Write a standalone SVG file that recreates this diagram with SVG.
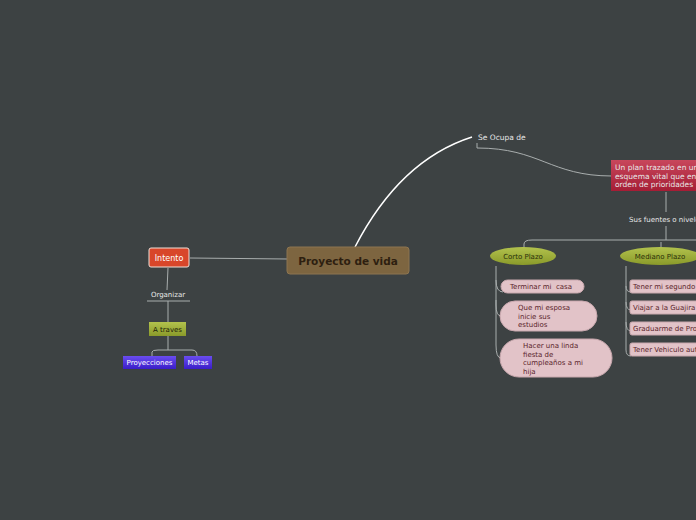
<svg xmlns="http://www.w3.org/2000/svg" width="696" height="520" viewBox="0 0 696 520">
<style>
text{font-family:"DejaVu Sans",sans-serif;font-size:7.5px}
.c{fill:none;stroke:#a9aeae;stroke-width:1}
.pk{fill:#e2c3c8;stroke:#c9a8ae}
.pt{fill:#5a1f2a}
.w{fill:#e8e8e8}
</style>
<defs>
<linearGradient id="r" x1="0" y1="0" x2="0" y2="1"><stop offset="0" stop-color="#c8475c"/><stop offset="1" stop-color="#a51d35"/></linearGradient>
<linearGradient id="g" x1="0" y1="0" x2="0" y2="1"><stop offset="0" stop-color="#b2c24d"/><stop offset="1" stop-color="#8a9a2a"/></linearGradient>
<linearGradient id="b" x1="0" y1="0" x2="0" y2="1"><stop offset="0" stop-color="#6a4cf0"/><stop offset="1" stop-color="#3a1ec8"/></linearGradient>
</defs>
<rect width="696" height="520" fill="#3d4243"/>
<g id="connectors">
<path d="M355 247 Q400 160 472 137" fill="none" stroke="#fff" stroke-width="1.5"/>
<path class="c" d="M477 143 L477 148 C540 148 550 176 612 176"/>
<path class="c" d="M190 258 L288 259" stroke="#ddd" stroke-width="1.3"/>
<path class="c" d="M168 268 L167 290"/>
<path class="c" d="M147 301 H190 M168 301 V322"/>
<path class="c" d="M168 336 V350 M152 356 V352 Q152 350 158 350 H192 Q197 350 197 356"/>
<path class="c" d="M666 192 V212 M666 226 V240 M524 248 V244 Q524 240 532 240 H696 M661 248 V242"/>
<path class="c" d="M496 266 V280 Q496 292 503 292 M496 280 V305 Q496 316 501 316 M496 300 V345 Q496 358 501 358"/>
<path class="c" d="M626 266 V350 Q626 356 631 356 M626 286 Q626 292 631 292 M626 302 Q626 310 631 310 M626 322 Q626 331 631 331"/>
</g>
<g id="n-proyecto"><rect x="287" y="247" width="122" height="27" rx="3" fill="#7d6540" stroke="#8d7550"/><text x="348" y="265" text-anchor="middle" style="font-size:10.5px;font-weight:bold;fill:#2e1f10">Proyecto de vida</text></g>
<g id="n-seocupa"><text x="478" y="140" class="w">Se Ocupa de</text></g>
<g id="n-plan"><rect x="611" y="160" width="90" height="31" fill="url(#r)"/><text class="w" x="615" y="170">Un plan trazado en un</text><text class="w" x="615" y="178.5">esquema vital que encaja</text><text class="w" x="615" y="187">orden de prioridades</text></g>
<g id="n-fuentes"><text x="629" y="222" class="w" style="font-size:7px">Sus fuentes o niveles</text></g>
<g id="n-corto"><ellipse cx="523" cy="256" rx="33" ry="9" fill="url(#g)"/><text x="523" y="259" text-anchor="middle" style="font-size:7px;fill:#2a300a">Corto Plazo</text></g>
<g id="n-mediano"><ellipse cx="660" cy="256" rx="40" ry="9" fill="url(#g)"/><text x="660" y="259" text-anchor="middle" style="font-size:7px;fill:#2a300a">Mediano Plazo</text></g>
<g id="n-casa"><rect class="pk" x="501" y="280" width="83" height="13" rx="6.5"/><text class="pt" x="510" y="289" style="font-size:7px;white-space:pre" xml:space="preserve">Terminar mi  casa</text></g>
<g id="n-esposa"><rect class="pk" x="500" y="301" width="97" height="30" rx="15"/><text class="pt" style="font-size:7px"><tspan x="518" y="310">Que mi esposa</tspan><tspan x="518" y="318.5">inicie sus</tspan><tspan x="518" y="327">estudios</tspan></text></g>
<g id="n-fiesta"><rect class="pk" x="500" y="339" width="112" height="38" rx="19"/><text class="pt" style="font-size:7px"><tspan x="523" y="348">Hacer una linda</tspan><tspan x="523" y="356.5">fiesta de</tspan><tspan x="523" y="365">cumpleaños a mi</tspan><tspan x="523" y="373.5">hija</tspan></text></g>
<g id="n-m1"><rect class="pk" x="630" y="280" width="70" height="13" rx="2"/><text class="pt" x="633" y="289" style="font-size:7px">Tener mi segundo</text></g>
<g id="n-m2"><rect class="pk" x="630" y="301" width="70" height="13" rx="2"/><text class="pt" x="633" y="310" style="font-size:7px">Viajar a la Guajira</text></g>
<g id="n-m3"><rect class="pk" x="630" y="322" width="70" height="13" rx="2"/><text class="pt" x="633" y="331" style="font-size:7px">Graduarme de Profesional</text></g>
<g id="n-m4"><rect class="pk" x="630" y="343" width="70" height="13" rx="2"/><text class="pt" x="633" y="352" style="font-size:7px">Tener Vehiculo automotor</text></g>
<g id="n-intento"><rect x="149" y="248" width="40" height="19" rx="2" fill="#d8462a" stroke="#f0e0d8"/><text x="169" y="261" text-anchor="middle" style="font-size:8px;fill:#fff">Intento</text></g>
<g id="n-organizar"><text x="168" y="297" text-anchor="middle" class="w" style="font-size:7px">Organizar</text></g>
<g id="n-atraves"><rect x="149" y="322" width="37" height="14" fill="url(#g)"/><text x="167.5" y="331.5" text-anchor="middle" style="font-size:7px;fill:#1a2008">A traves</text></g>
<g id="n-proy"><rect x="123" y="356" width="53" height="13" fill="url(#b)"/><text x="149.5" y="365" text-anchor="middle" style="font-size:7px;fill:#fff">Proyecciones</text></g>
<g id="n-metas"><rect x="184" y="356" width="28" height="13" fill="url(#b)"/><text x="198" y="365" text-anchor="middle" style="font-size:7px;fill:#fff">Metas</text></g>
</svg>
